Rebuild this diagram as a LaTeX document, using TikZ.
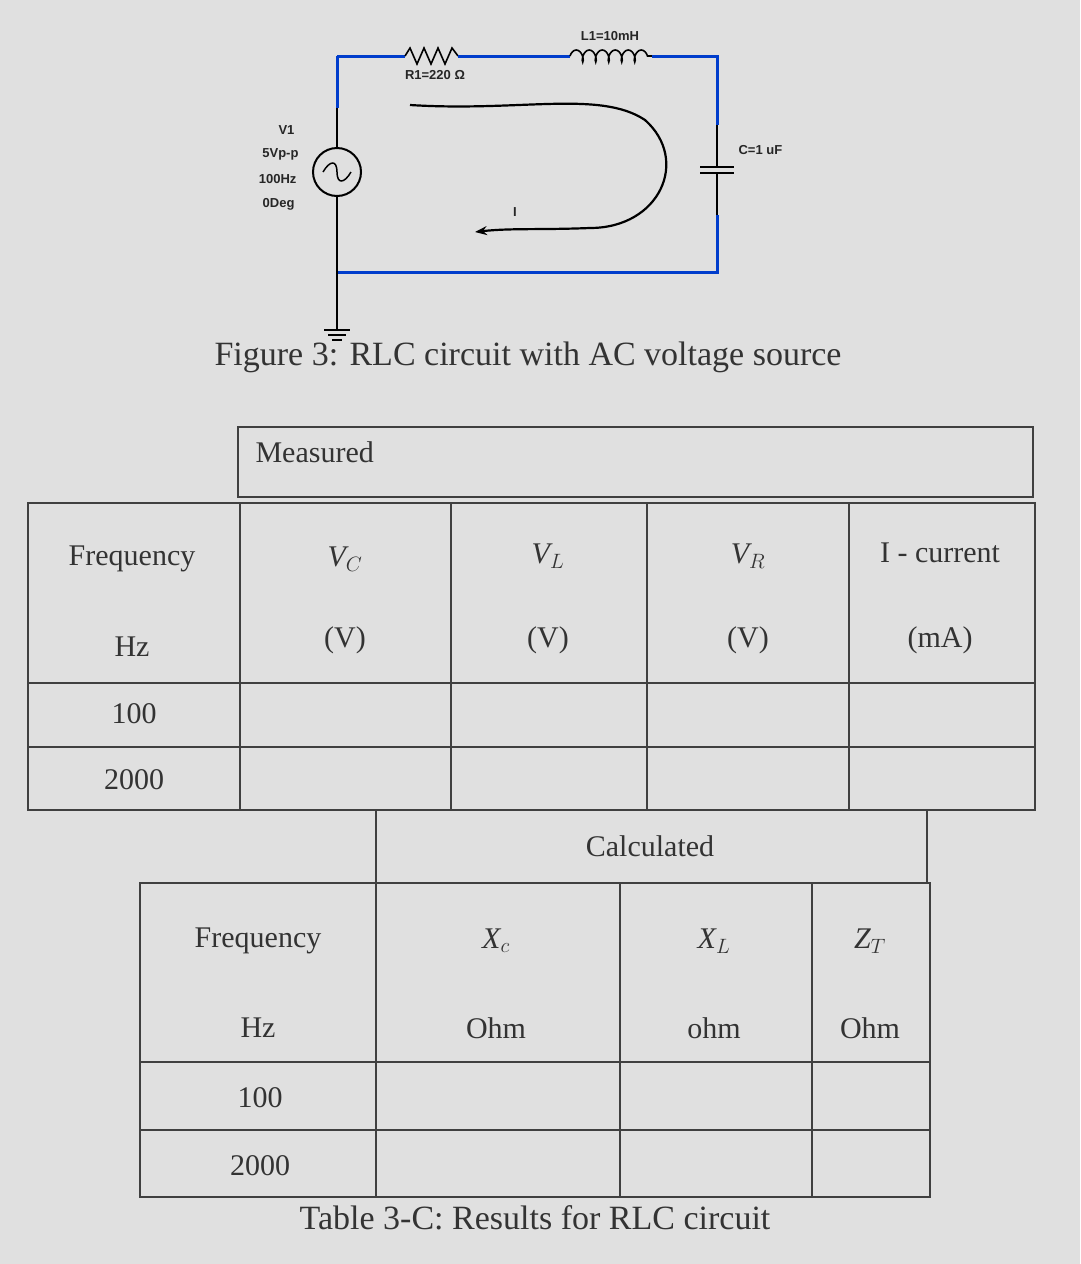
\documentclass[tikz,border=0pt]{standalone}
\usepackage{fontspec}
\setmainfont{Liberation Serif}
\setsansfont{Liberation Sans}
\usetikzlibrary{decorations.pathmorphing,arrows.meta}
\begin{document}
\begin{tikzpicture}[x=1pt,y=-1pt,
  wire/.style={draw=blue!70!cyan!80!black,line width=3pt},
  grid/.style={draw=black!75,line width=1.5pt},
  t/.style={font=\fontsize{30}{32}\selectfont,text=black!80},
  s/.style={font=\sffamily\bfseries\fontsize{13}{14}\selectfont,text=black!85}]
\fill[black!12] (0,0) rectangle (1080,1264);
\useasboundingbox (0,0) rectangle (1080,1264);
% circuit
\coordinate (tl) at (337,56); \coordinate (tr) at (717,56);
\coordinate (br) at (717,272); \coordinate (bl) at (337,272);
\node[circle,draw=black,line width=2pt,minimum size=48pt,inner sep=0] (src) at (337,172) {};
\draw[black,line width=1.5pt] (323,172) .. controls (330,160) and (337,160) .. (337,172) .. controls (337,184) and (344,184) .. (351,172);
\draw[wire] (tl) -- (405,56);
\draw[black,line width=1.6pt] (405,56) -- (410,48) -- (417,64) -- (424,48) -- (431,64) -- (438,48) -- (445,64) -- (452,48) -- (458,56);
\draw[wire] (458,56) -- (570,56);
\draw[black,line width=1.6pt,decoration={coil,segment length=13pt,amplitude=6pt,aspect=0.5},decorate] (570,56) -- (652,56);
\draw[wire] (652,56) -- (tr) -- (717,125);
\draw[black,line width=2pt] (717,125) -- (717,167);
\draw[black,line width=2pt] (700,167) -- (734,167) (700,173) -- (734,173);
\draw[black,line width=2pt] (717,173) -- (717,215);
\draw[wire] (717,215) -- (br) -- (bl);
\draw[black,line width=2pt] (337,108)--(src.north) (src.south) -- (337,330);
\draw[wire] (tl) -- (337,108);
\draw[black,line width=2pt] (324,330) -- (350,330) (328,335) -- (346,335) (332,340) -- (342,340);
\node[s,anchor=east] (v1) at (298,130) {V1};
\node[s,anchor=east] (v2) at (302,154) {5Vp-p};
\node[s,anchor=east] (v3) at (300,179) {100Hz};
\node[s,anchor=east] (v4) at (298,204) {0Deg};
\node[s] (rl) at (435,75) {R1=220 Ω};
\node[s] (ll) at (610,36) {L1=10mH};
\node[s,anchor=west] (cl) at (735,150) {C=1 uF};
\node[s] (il) at (515,212) {I};
\draw[black,line width=2.2pt,-{Stealth[length=12pt]}] (410,105) .. controls (520,112) and (600,90) .. (645,120) .. controls (690,160) and (660,228) .. (590,228) .. controls (540,230) and (510,228) .. (475,232);
\node[t,font=\fontsize{34}{36}\selectfont] (fig) at (528,357) {Figure 3: RLC circuit with AC voltage source};
% measured table
\draw[grid] (238,427) rectangle (1033,497);
\node[t,anchor=west] (meas) at (252,452) {Measured};
\draw[grid] (28,503) rectangle (1035,810);
\foreach \x in {240,451,647,849} \draw[grid] (\x,503) -- (\x,810);
\draw[grid] (28,683) -- (1035,683) (28,747) -- (1035,747);
\node[t] (m1) at (132,559) {Frequency};
\node[t] (m2) at (132,647) {Hz};
\node[t] (m3) at (345,559) {\itshape V$_C$};
\node[t] (m4) at (345,640) {(V)};
\node[t] (m5) at (548,556) {\itshape V$_L$};
\node[t] (m6) at (548,640) {(V)};
\node[t] (m7) at (748,556) {\itshape V$_R$};
\node[t] (m8) at (748,640) {(V)};
\node[t] (m9) at (940,553) {I - current};
\node[t] (m10) at (940,640) {(mA)};
\node[t] (m11) at (134,714) {100};
\node[t] (m12) at (134,780) {2000};
% calculated table
\draw[grid] (376,810) rectangle (927,883);
\node[t] (calc) at (650,846) {Calculated};
\draw[grid] (140,883) rectangle (930,1197);
\foreach \x in {376,620,812} \draw[grid] (\x,883) -- (\x,1197);
\draw[grid] (140,1062) -- (930,1062) (140,1130) -- (930,1130);
\node[t] (c1) at (258,941) {Frequency};
\node[t] (c2) at (258,1028) {Hz};
\node[t] (c3) at (496,941) {\itshape X$_c$};
\node[t] (c4) at (496,1028) {Ohm};
\node[t] (c5) at (714,941) {\itshape X$_L$};
\node[t] (c6) at (714,1028) {ohm};
\node[t] (c7) at (870,941) {\itshape Z$_T$};
\node[t] (c8) at (870,1028) {Ohm};
\node[t] (c9) at (260,1098) {100};
\node[t] (c10) at (260,1166) {2000};
\node[t,font=\fontsize{34}{36}\selectfont] (cap) at (535,1218) {Table 3-C: Results for RLC circuit};
\end{tikzpicture}
\end{document}
